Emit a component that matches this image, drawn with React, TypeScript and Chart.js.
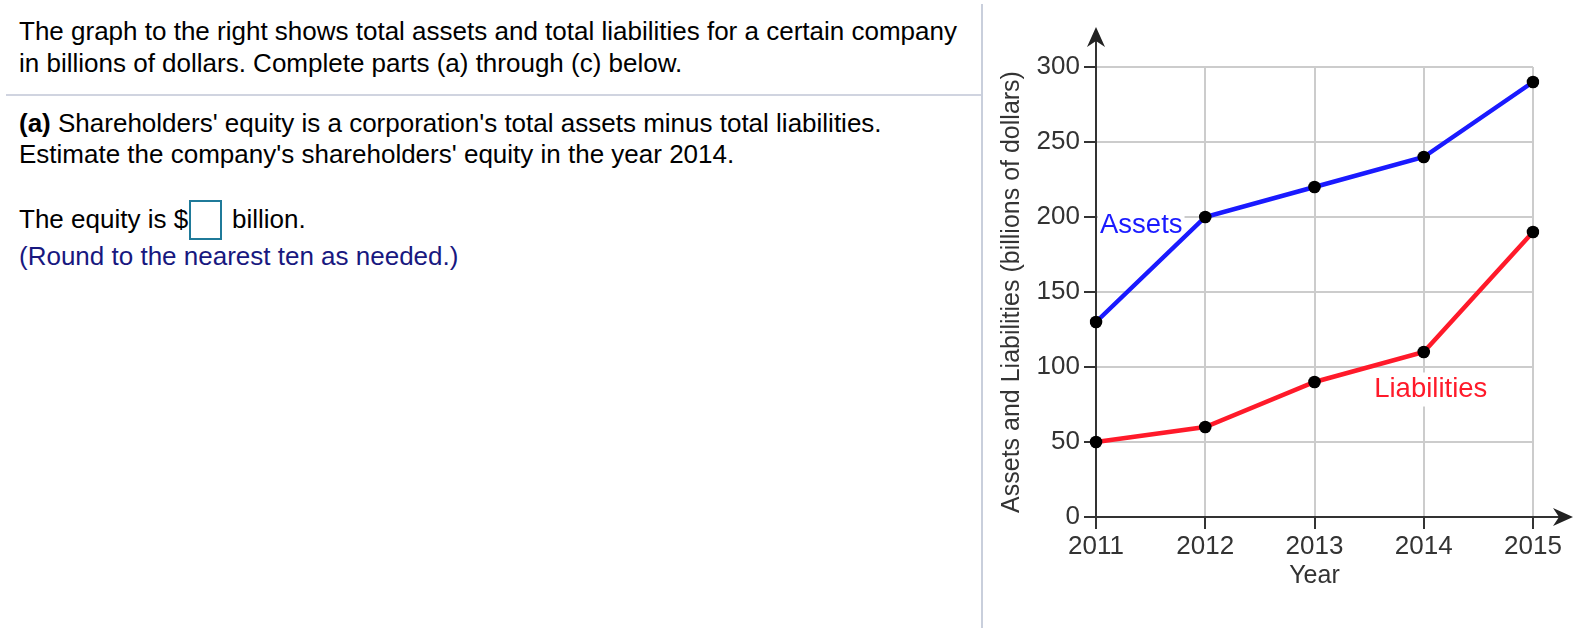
import React, { useEffect, useRef } from 'react';
import { Chart, registerables } from 'chart.js';

Chart.register(...registerables);

// ---------- data ----------
const years = ['2011', '2012', '2013', '2014', '2015'];
const assets = [130, 200, 220, 240, 290];
const liabilities = [50, 60, 90, 110, 190];
const yTickValues = [0, 50, 100, 150, 200, 250, 300];
const seriesNames = ['Assets', 'Liabilities'];
const yTitle = 'Assets and Liabilities (billions of dollars)';
const xTitle = 'Year';

const FONT = '"Liberation Sans", Arial, Helvetica, sans-serif';
const BLUE = '#1a1aff';
const RED = '#ff1a2a';
const AXIS = '#333333';
const GRID = '#cccccc';

const decorations = {
  id: 'decorations',
  beforeDatasetsDraw(chart: any) {
    const ctx = chart.ctx;
    const xs = chart.scales.x;
    const ys = chart.scales.y;
    const labels = [
      { text: seriesNames[0], color: BLUE, x: xs.getPixelForValue(0) + 4, y: ys.getPixelForValue(194.5), align: 'left' },
      { text: seriesNames[1], color: RED, x: xs.getPixelForValue(3) + 7, y: ys.getPixelForValue(85), align: 'center' },
    ];
    ctx.save();
    ctx.font = `27.5px ${FONT}`;
    ctx.textBaseline = 'middle';
    for (const l of labels) {
      const w = ctx.measureText(l.text).width;
      const left = l.align === 'left' ? l.x : l.x - w / 2;
      ctx.fillStyle = '#ffffff';
      ctx.fillRect(left - 2, l.y - 17, w + 4, 34);
      ctx.fillStyle = l.color;
      ctx.textAlign = l.align as CanvasTextAlign;
      ctx.fillText(l.text, l.x, l.y);
    }
    ctx.restore();
  },
  afterDraw(chart: any) {
    const ctx = chart.ctx;
    const { left, top, right, bottom } = chart.chartArea;
    ctx.save();
    ctx.strokeStyle = AXIS;
    ctx.fillStyle = '#222222';
    ctx.lineWidth = 2;
    // y axis extension
    const ax = Math.round(left);
    const tipY = 27;
    ctx.beginPath();
    ctx.moveTo(ax, top + 1);
    ctx.lineTo(ax, tipY + 12);
    ctx.stroke();
    ctx.beginPath();
    ctx.moveTo(ax, tipY);
    ctx.lineTo(ax + 9, tipY + 20);
    ctx.lineTo(ax, tipY + 14);
    ctx.lineTo(ax - 9, tipY + 20);
    ctx.closePath();
    ctx.fill();
    // x axis extension
    const ay = Math.round(bottom);
    const tipX = right + 40;
    ctx.beginPath();
    ctx.moveTo(right - 1, ay);
    ctx.lineTo(tipX - 12, ay);
    ctx.stroke();
    ctx.beginPath();
    ctx.moveTo(tipX, ay);
    ctx.lineTo(tipX - 20, ay - 9);
    ctx.lineTo(tipX - 14, ay);
    ctx.lineTo(tipX - 20, ay + 9);
    ctx.closePath();
    ctx.fill();
    ctx.restore();
  },
};

function ChartBox() {
  const ref = useRef<HTMLCanvasElement | null>(null);
  useEffect(() => {
    if (!ref.current) return;
    Chart.defaults.font.family = FONT;
    const chart = new Chart(ref.current, {
      type: 'line',
      data: {
        labels: years,
        datasets: [
          {
            label: seriesNames[0],
            data: assets,
            borderColor: BLUE,
            borderWidth: 4.5,
            pointRadius: 6.3,
            pointBackgroundColor: '#000',
            pointBorderWidth: 0,
            tension: 0,
          },
          {
            label: seriesNames[1],
            data: liabilities,
            borderColor: RED,
            borderWidth: 4.5,
            pointRadius: 6.3,
            pointBackgroundColor: '#000',
            pointBorderWidth: 0,
            tension: 0,
          },
        ],
      },
      options: {
        animation: false,
        responsive: false,
        events: [],
        layout: { padding: { left: 0, top: 67, right: 59, bottom: 31 } },
        plugins: { legend: { display: false }, tooltip: { enabled: false } },
        scales: {
          x: {
            type: 'category',
            offset: false,
            grid: { color: GRID, lineWidth: 2, tickColor: AXIS, tickWidth: 2, tickLength: 12 },
            border: { color: AXIS, width: 2 },
            ticks: { color: AXIS, font: { size: 26 }, padding: 2, maxRotation: 0, autoSkip: false },
            title: { display: true, text: xTitle, color: AXIS, font: { size: 25 }, padding: { top: 0, bottom: 6 } },
            afterFit: (s: any) => { s.height = 80; },
          },
          y: {
            type: 'linear',
            min: 0,
            max: 300,
            grid: { color: GRID, lineWidth: 2, tickColor: AXIS, tickWidth: 2, tickLength: 12 },
            border: { color: AXIS, width: 2 },
            ticks: { color: AXIS, font: { size: 26 }, padding: 4 },
            afterBuildTicks: (s: any) => { s.ticks = yTickValues.map((v) => ({ value: v })); },
            title: { display: true, text: yTitle, color: AXIS, font: { size: 25 }, padding: { top: 13.5, bottom: 0 } },
            afterFit: (s: any) => { s.width = 112; },
          },
        },
      },
      plugins: [decorations],
    } as any);
    return () => chart.destroy();
  }, []);
  return (
    <canvas
      ref={ref}
      width={608}
      height={628}
      style={{ position: 'absolute', left: 984, top: 0, width: 608, height: 628 }}
    />
  );
}

const lineStyle: React.CSSProperties = {
  position: 'absolute',
  left: 19,
  fontSize: 26,
  lineHeight: '32px',
  whiteSpace: 'nowrap',
  color: '#000',
};

export default function App() {
  return (
    <div
      style={{
        position: 'fixed',
        left: 0,
        top: 0,
        width: 1592,
        height: 628,
        background: '#fff',
        fontFamily: FONT,
        overflow: 'hidden',
      }}
    >
      <div style={{ ...lineStyle, top: 15 }}>
        The graph to the right shows total assets and total liabilities for a certain company
      </div>
      <div style={{ ...lineStyle, top: 47 }}>in billions of dollars. Complete parts (a) through (c) below.</div>
      <div style={{ position: 'absolute', left: 6, top: 94, width: 975, height: 2, background: '#d0d4e0' }} />
      <div style={{ ...lineStyle, top: 107 }}>
        <b>(a)</b> Shareholders' equity is a corporation's total assets minus total liabilities.
      </div>
      <div style={{ ...lineStyle, top: 138 }}>Estimate the company's shareholders' equity in the year 2014.</div>
      <div style={{ ...lineStyle, top: 203 }}>The equity is $</div>
      <div
        style={{
          position: 'absolute',
          left: 189,
          top: 200,
          width: 29,
          height: 36,
          border: '2px solid #1f7a99',
        }}
      />
      <div style={{ ...lineStyle, left: 232, top: 203 }}>billion.</div>
      <div style={{ ...lineStyle, top: 240, color: '#18187f' }}>(Round to the nearest ten as needed.)</div>
      <div style={{ position: 'absolute', left: 981, top: 4, width: 2, height: 624, background: '#c9cfdc' }} />
      <ChartBox />
    </div>
  );
}
